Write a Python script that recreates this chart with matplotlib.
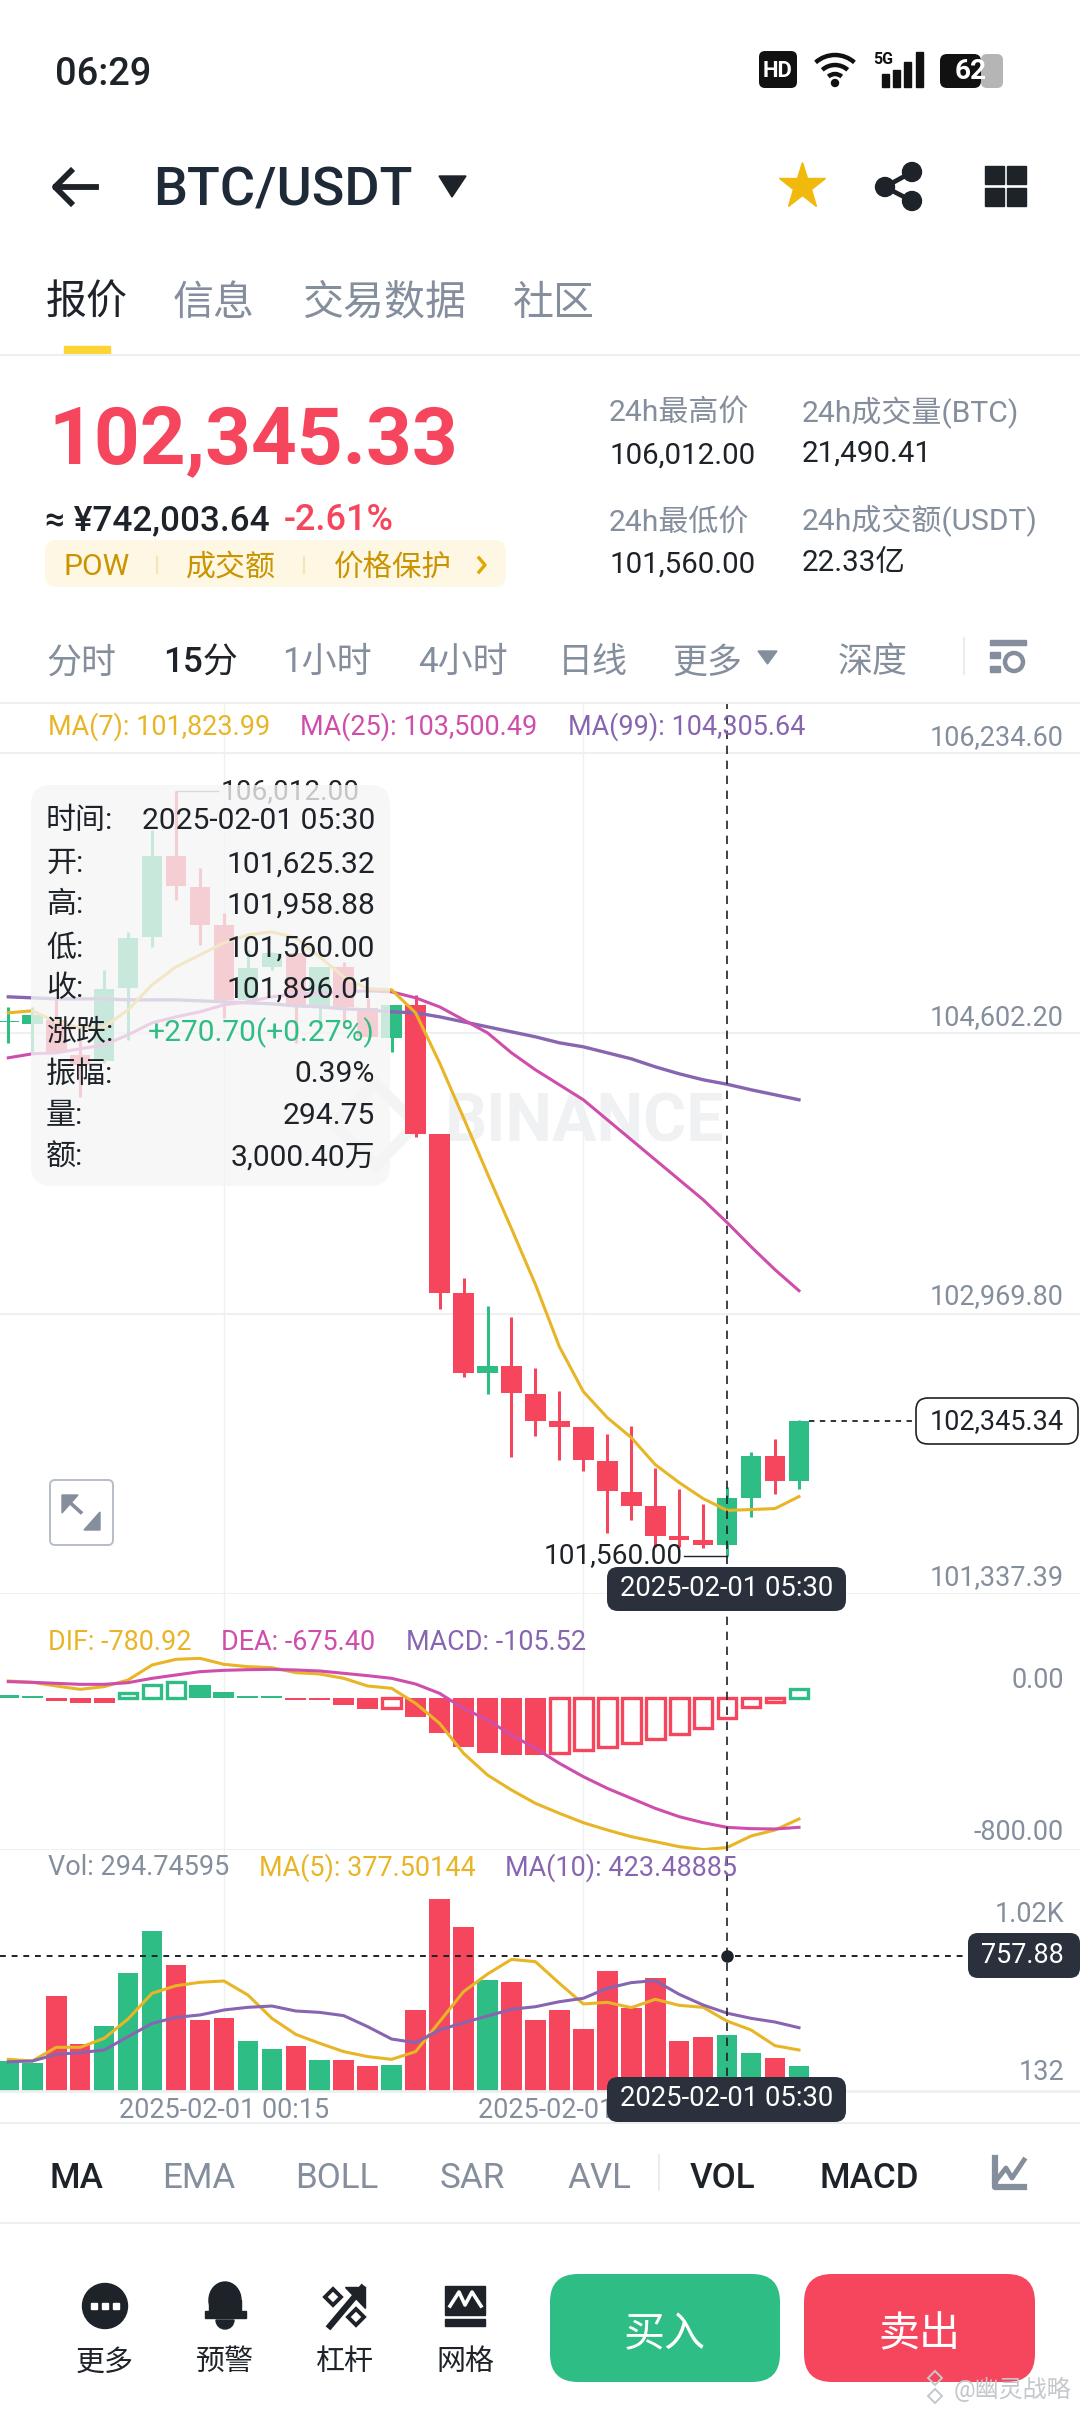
import matplotlib
matplotlib.use('Agg')
import matplotlib.pyplot as plt
from matplotlib.patches import FancyBboxPatch, Rectangle, Circle, Ellipse, Polygon, Arc, Wedge
import numpy as np

plt.rcParams['font.family'] = ['Roboto', 'Noto Sans CJK SC', 'DejaVu Sans']

W, H = 1080, 2412
RED, GREEN = '#f6465d', '#2ebd85'
DARK, GRAY = '#1e2329', '#848e9c'
YEL, PINK, PUR = '#e8b526', '#cf4dab', '#8865b0'
GRID = '#eff0f2'

# candles, 15 min
opens = [104669.1, 104657.5, 104680.7, 104477.0, 104442.1, 104867.0, 105163.8, 105635.2, 105454.8, 105233.6,
         104797.1, 104989.2, 105070.7, 104750.6, 104989.2, 104750.6, 104576.0, 104768.0, 104017.3, 103092.0,
         102626.4, 102667.1, 102504.2, 102347.0, 102312.1, 102114.2, 101933.8, 101852.4, 101677.8, 101654.5,
         101625.32, 101896.0, 102143.4, 101997.9]
highs = [104756.4, 104756.4, 104814.6, 104564.3, 104971.7, 105192.9, 105786.5, 106012.0, 105565.3, 105303.4,
         105088.1, 105076.5, 105105.6, 104989.2, 105018.3, 104808.8, 104768.0, 104826.2, 104017.3, 103179.3,
         103016.3, 102952.3, 102655.5, 102521.6, 102312.1, 102271.4, 102317.9, 102073.6, 101951.3, 101864.0,
         101958.88, 102166.6, 102242.3, 102350.0]
lows = [104546.9, 104488.7, 104488.7, 104232.6, 104430.5, 104564.3, 105105.6, 105379.1, 105117.2, 104692.4,
        104785.6, 104971.7, 104546.9, 104634.2, 104634.2, 104581.8, 104494.6, 103999.8, 102998.8, 102603.1,
        102504.2, 102137.6, 102259.7, 102120.1, 102056.0, 101695.2, 101770.9, 101613.8, 101613.8, 101607.9,
        101560.0, 101788.4, 101922.2, 101951.3]
closes = [104674.9, 104709.8, 104494.6, 104418.9, 104861.2, 105158.0, 105635.2, 105460.6, 105233.6, 104797.1,
          104983.4, 105070.7, 104756.4, 104989.2, 104756.4, 104581.8, 104768.0, 104017.3, 103092.0, 102626.4,
          102667.1, 102510.0, 102347.0, 102312.1, 102120.1, 101939.7, 101852.4, 101677.8, 101654.5, 101625.4,
          101896.01, 102143.4, 101997.9, 102345.34]

ma7 = [104721.5, 104733.1, 104669.1, 104634.2, 104640.0, 104738.9, 104884.4, 104989.2, 105059.0, 105128.9,
       105175.4, 105192.9, 105158.0, 105047.4, 104931.0, 104861.2, 104855.3, 104721.5, 104430.5, 104110.0,
       103784.0, 103465.0, 103140.0, 102777.7, 102515.8, 102364.5, 102248.1, 102091.0, 101986.2, 101893.1,
       101823.99, 101829.1, 101834.9, 101904.7]
ma25 = [104459.6, 104482.9, 104488.7, 104512.0, 104535.2, 104593.4, 104663.3, 104698.2, 104727.3, 104768.0,
        104785.6, 104814.6, 104832.1, 104837.9, 104843.7, 104849.5, 104843.7, 104808.8, 104756.4, 104680.7,
        104605.1, 104488.7, 104389.8, 104302.5, 104215.2, 104098.8, 103982.4, 103866.0, 103749.6, 103633.2,
        103500.49, 103359.7, 103225.8, 103103.6]
ma99 = [104814.6, 104808.8, 104803.0, 104803.0, 104803.0, 104797.1, 104797.1, 104797.1, 104791.3, 104785.5,
        104779.7, 104773.9, 104762.2, 104756.4, 104744.8, 104738.9, 104727.3, 104721.5, 104698.2, 104669.1,
        104640.0, 104610.9, 104581.8, 104546.9, 104523.6, 104488.7, 104453.8, 104407.2, 104366.5, 104331.6,
        104305.64, 104273.4, 104244.3, 104215.2]

macd_dif = [90.7, 83.8, 64.6, 47.1, 61.1, 96.0, 174.5, 204.2, 209.4, 178.0,
            165.8, 160.5, 134.4, 127.4, 104.7, 64.6, 52.4, -26.2, -130.9, -287.9,
            -401.4, -479.9, -549.7, -602.0, -650.9, -689.3, -724.2, -750.4, -776.5, -792.0,
            -780.92, -720.7, -689.3, -631.7]
macd_dea = [87.3, 83.8, 78.5, 73.3, 73.3, 82.0, 104.7, 122.2, 139.6, 146.6,
            150.0, 151.8, 148.3, 143.1, 130.9, 118.7, 104.7, 75.0, 26.2, -52.4,
            -113.4, -192.0, -261.8, -340.3, -410.1, -471.2, -523.5, -575.9, -619.5, -650.9,
            -675.4, -682.3, -684.0, -675.3]
macd_hist = [15.7, 14.0, -14.0, -26.2, -26.5, 26.2, 69.8, 87.2, 69.8, 31.4,
             14.0, 14.0, -8.7, -8.7, -33.2, -54.0, -53.0, -99.5, -183.0, -253.0,
             -284.0, -297.0, -297.0, -288.0, -270.0, -255.0, -236.0, -213.0, -188.0, -157.0,
             -105.52, -46.0, -17.0, 47.0]

volumes = [145.5, 135.8, 525.3, 242.4, 348.9, 655.2, 903.2, 705.6, 383.8, 393.5,
           263.7, 213.3, 232.7, 151.3, 151.3, 116.4, 122.2, 440.0, 1087.3, 926.5,
           614.5, 602.8, 383.8, 440.0, 333.5, 668.7, 455.6, 628.0, 259.8, 285.0,
           294.75, 192.0, 161.0, 118.0]
vol_ma5 = [155, 145, 225, 225, 277, 390, 539, 583, 603, 610.6,
           529, 393.5, 300, 248, 200, 171, 155, 200, 374, 548.6,
           651, 736, 723, 597, 477, 486.6, 455.6, 504, 469, 457.5,
           377.5, 325.7, 234.6, 209.4]
vol_ma10 = [141, 145, 184, 194, 209, 287, 364, 399, 413, 442,
            457.5, 465, 436, 428, 409, 345, 273, 252, 326, 368,
            407, 446, 461, 490, 510, 568, 601, 613, 533, 471,
            423.5, 393.5, 372, 339]

date_tick_idx = [9, 24]
date_ticks = ['2025-02-01 00:15', '2025-02-01 04:00']
price_ticks = [106234.60, 104602.20, 102969.80, 101337.39]
cross_idx = 30
cross_vol = 757.88
last_price = 102345.34

fig = plt.figure(figsize=(W / 100, H / 100), dpi=100, facecolor='white')


def panel(top, bottom, ylim):
    a = fig.add_axes([0, 1 - bottom / H, 1, (bottom - top) / H], zorder=1)
    a.set_xlim(-8.3 / 23.96, (W - 8.3) / 23.96)
    a.set_ylim(*ylim)
    for s in ['top', 'left', 'right']:
        a.spines[s].set_visible(False)
    a.spines['bottom'].set_color(GRID)
    a.spines['bottom'].set_linewidth(2)
    a.set_xticks(date_tick_idx)
    a.set_yticks([])
    a.tick_params(length=0, labelbottom=False, labelleft=False)
    a.grid(axis='x', color=GRID, lw=1)
    a.set_axisbelow(True)
    return a


idx = np.arange(len(closes))
up = np.array(closes) >= np.array(opens)
bar_col = [GREEN if u else RED for u in up]

# price panel
ax = panel(703, 1594, (101337.39, 106525.6))
ax.set_yticks(price_ticks)
ax.grid(axis='y', color=GRID, lw=1.5)
ax.text(18.2, 104075, 'BINANCE', fontsize=66 * .72, weight='bold', color='#f0f1f2', va='center', zorder=0)
ax.plot([15.3], [104075], marker='D', ms=42, mfc='none', mec='#f3f4f5', mew=8, zorder=0)
ax.vlines(idx, lows, highs, colors=bar_col, lw=2.2, zorder=2)
ax.bar(idx, np.abs(np.array(closes) - np.array(opens)), bottom=np.minimum(opens, closes),
       width=.86, color=bar_col, zorder=3)
ax.plot(idx, ma99, color=PUR, lw=2.4, zorder=4)
ax.plot(idx, ma25, color=PINK, lw=2.2, zorder=4)
ax.plot(idx, ma7, color=YEL, lw=2.2, zorder=4)
ax.axvline(cross_idx, color=DARK, lw=1.2, dashes=(5, 4), zorder=5)
ax.plot([33.4, 37.7], [last_price, last_price], color=DARK, lw=1.3, dashes=(3, 3), zorder=2)
ax.plot([7, 8.75], [106012, 106012], color='#777777', lw=1)
ax.text(8.85, 106012, '106,012.00', fontsize=28 * .72, color=DARK, va='center')
ax.plot([28.2, 30], [101560, 101560], color=DARK, lw=1, zorder=6)
ax.text(28.15, 101560, '101,560.00', fontsize=28 * .72, color=DARK, va='center', ha='right', zorder=6)

# macd panel
mx = panel(1594, 1850, (-794, 546.2))
for i, h in enumerate(macd_hist):
    hollow = i > 0 and h > macd_hist[i - 1]
    c = GREEN if h > 0 else RED
    if hollow:
        mx.bar(i, h, width=.78, facecolor='white', edgecolor=c, lw=2.4, zorder=2)
    else:
        mx.bar(i, h, width=.88, color=c, zorder=2)
mx.plot(idx, macd_dif, color=YEL, lw=2.2, zorder=3, clip_on=False)
mx.plot(idx, macd_dea, color=PINK, lw=2.2, zorder=3)
mx.axvline(cross_idx, color=DARK, lw=1.2, dashes=(5, 4), zorder=5)

# volume panel
vol_floor = -29
vx = panel(1850, 2091, (vol_floor, 1372))
vx.bar(idx, np.array(volumes) - vol_floor, bottom=vol_floor, width=.86, color=bar_col, zorder=2)
vx.plot(idx, vol_ma5, color=YEL, lw=2.2, zorder=3)
vx.plot(idx, vol_ma10, color=PUR, lw=2.2, zorder=3)
vx.axvline(cross_idx, color=DARK, lw=1.2, dashes=(5, 4), zorder=5)
vx.axhline(cross_vol, color=DARK, lw=1.4, dashes=(3, 3), zorder=5)
vx.plot([cross_idx], [cross_vol], 'o', color=DARK, ms=8, zorder=6)
vx.set_xticklabels(date_ticks, fontsize=27 * .72, color=GRAY)
vx.tick_params(labelbottom=True, pad=4)

# everything that is app chrome goes on a pixel axes on top
ui = fig.add_axes([0, 0, 1, 1], zorder=5)
ui.set_xlim(0, W)
ui.set_ylim(H, 0)
ui.axis('off')


def T(x, y, s, px=26, color=DARK, ha='left', weight='normal', **kw):
    # va center sits high because of the descender room, push it back down
    return ui.text(x, y + .08 * px, s, fontsize=px * .72, color=color, ha=ha, va='center', weight=weight, **kw)


def box(x0, y0, x1, y1, r, fc, ec='none', lw=0, alpha=None, z=2):
    p = FancyBboxPatch((x0, y0), x1 - x0, y1 - y0, boxstyle='round,pad=0,rounding_size=%s' % r,
                       fc=fc, ec=ec, lw=lw, alpha=alpha, zorder=z)
    ui.add_patch(p)


def hline(y, x0=0, x1=W, c='#eceef0', lw=1.5):
    ui.plot([x0, x1], [y, y], color=c, lw=lw, solid_capstyle='butt')


# status bar
T(55, 71, '06:29', 38, weight='medium')
box(759, 51, 797, 88, 6, '#111111')
T(778, 69, 'HD', 22, 'white', ha='center', weight='bold', zorder=3)
for w in [58, 38, 20]:
    ui.add_patch(Arc((835, 84), w, w, theta1=228, theta2=312, color='#111111', lw=3.2))
ui.add_patch(Circle((835, 83), 3.5, color='#111111'))
T(883, 58, '5G', 16, '#111111', ha='center', weight='bold')
for x, top in zip([882, 893, 904, 916], [74, 70, 62, 52]):
    ui.add_patch(Rectangle((x, top), 7, 87 - top, color='#111111'))
box(981, 54, 1003, 88, 6, '#b5b5b5')
box(940, 54, 981, 88, 7, '#111111', z=3)
T(971, 69, '62', 28, 'white', ha='center', weight='bold', zorder=4)

# header
ui.plot([56, 96], [187, 187], color=DARK, lw=4.2)
ui.plot([71, 55, 71], [171, 187, 203], color=DARK, lw=4.2)
T(153, 187, 'BTC/USDT', 54, '#1e2a38', weight='medium')
ui.add_patch(Polygon([(439, 176), (466, 176), (452, 197)], color=DARK))
ui.plot([802], [186], marker='*', ms=35, color='#f0b90b', mec='#f0b90b')
ui.plot([912, 885, 912], [172, 187, 201], color=DARK, lw=3.4)
for x, y in [(912, 172), (885, 187), (912, 201)]:
    ui.add_patch(Circle((x, y), 9.5, color=DARK))
for x in [985, 1007]:
    for y in [166, 188]:
        ui.add_patch(Rectangle((x, y), 18.5, 17.5, color=DARK))

# tabs
T(46, 300, '报价', 41, weight='medium')
for x, s in [(173, '信息'), (302, '交易数据'), (513, '社区')]:
    T(x, 300, s, 41, GRAY)
ui.add_patch(Rectangle((64, 346), 46, 8, color='#fcd535'))
hline(355)

# quote block
T(48, 435, '102,345.33', 80, RED, weight='bold')
T(45, 518, '≈ ¥742,003.64', 35, weight='medium')
T(284, 518, '-2.61%', 36, RED, weight='medium')
box(45, 540, 506, 587, 12, '#fdf7e3')
T(63, 565, 'POW', 30, '#c99400')
T(186, 565, '成交额', 30, '#c99400')
T(334, 565, '价格保护', 29.5, '#c99400')
for x in [157, 304]:
    ui.plot([x, x], [557, 573], color='#f5e6b8', lw=1.5)
ui.plot([479, 485, 479], [558, 565, 572], color='#e0a800', lw=2.4)

T(609, 410, '24h最高价', 30, GRAY)
T(609, 453, '106,012.00', 29.5)
T(802, 410, '24h成交量(BTC)', 30, GRAY)
T(802, 451, '21,490.41', 29.5)
T(609, 520, '24h最低价', 30, GRAY)
T(609, 562, '101,560.00', 29.5)
T(802, 518, '24h成交额(USDT)', 30, GRAY)
T(802, 561, '22.33亿', 29.5)

# intervals
for x, s in [(46, '分时'), (282, '1小时'), (418, '4小时'), (558, '日线'), (672, '更多'), (838, '深度')]:
    T(x, 660, s, 35, GRAY)
T(163, 660, '15分', 35, weight='medium')
ui.add_patch(Polygon([(758, 651), (777, 651), (767.5, 664)], color=GRAY))
ui.plot([964, 964], [638, 674], color='#e6e8ea', lw=1.2)
ui.add_patch(Rectangle((990, 640), 36, 5, color=GRAY))
ui.add_patch(Rectangle((990, 652), 10, 6, color=GRAY))
ui.add_patch(Rectangle((990, 666), 10, 6, color=GRAY))
ui.add_patch(Circle((1014, 662), 9, fc='none', ec=GRAY, lw=3.2))
hline(703)

# legends and axis labels
for x, s, c in [(48, 'MA(7): 101,823.99', YEL), (300, 'MA(25): 103,500.49', PINK), (568, 'MA(99): 104,305.64', PUR)]:
    T(x, 724, s, 27, c)
for y, s in zip([735, 1015, 1294, 1575], ['106,234.60', '104,602.20', '102,969.80', '101,337.39']):
    T(1064, y, s, 27, GRAY, ha='right')
for x, s, c in [(48, 'DIF: -780.92', YEL), (221, 'DEA: -675.40', PINK), (406, 'MACD: -105.52', PUR)]:
    T(x, 1640, s, 27, c)
T(1064, 1678, '0.00', 27, GRAY, ha='right')
T(1064, 1830, '-800.00', 27, GRAY, ha='right')
for x, s, c in [(48, 'Vol: 294.74595', GRAY), (259, 'MA(5): 377.50144', YEL), (505, 'MA(10): 423.48885', PUR)]:
    T(x, 1865, s, 27, c)
T(1064, 1912, '1.02K', 27, GRAY, ha='right')
T(1064, 2070, '132', 27, GRAY, ha='right')

# detail card over the candles
box(31, 785, 390, 1186, 20, '#f5f5f5', alpha=.78, z=2)
rows = [('时间:', '2025-02-01 05:30'), ('开:', '101,625.32'), ('高:', '101,958.88'), ('低:', '101,560.00'),
        ('收:', '101,896.01'), ('涨跌:', '+270.70(+0.27%)'), ('振幅:', '0.39%'), ('量:', '294.75'), ('额:', '3,000.40万')]
for y, (k, v) in zip([819, 862, 903, 946, 987, 1030, 1072, 1114, 1155], rows):
    T(46, y, k, 30, zorder=3)
    T(375, y, v, 30, GREEN if k == '涨跌:' else DARK, ha='right', zorder=3)

# tags
box(916, 1398, 1078, 1444, 12, 'white', ec=DARK, lw=1.2)
T(1064, 1419, '102,345.34', 27, ha='right', zorder=3)
for y0, y1 in [(1567, 1611), (2077, 2122)]:
    box(607, y0, 846, y1, 11, '#2a313c', z=3)
    T(727, (y0 + y1) / 2 - 3, '2025-02-01 05:30', 27.5, 'white', ha='center', zorder=4)
box(968, 1933, 1080, 1978, 10, '#2a313c')
T(1064, 1953, '757.88', 27, 'white', ha='right', zorder=3)

# expand button
box(50, 1480, 113, 1545, 5, 'white', ec='#b7bdc6', lw=1.4)
ui.add_patch(Polygon([(62, 1495), (78, 1495), (62, 1513)], color=GRAY, zorder=3))
ui.add_patch(Polygon([(100, 1530), (84, 1530), (100, 1512)], color=GRAY, zorder=3))
ui.plot([66, 96], [1499, 1526], color=GRAY, lw=2.6, zorder=3, dashes=(6, 8))

# indicator row
hline(2123)
T(49, 2176, 'MA', 35, weight='medium')
for x, s in [(162, 'EMA'), (295, 'BOLL'), (440, 'SAR'), (567, 'AVL')]:
    T(x, 2176, s, 35, GRAY)
ui.plot([659, 659], [2155, 2190], color='#e6e8ea', lw=1.2)
T(690, 2176, 'VOL', 35, weight='medium')
T(819, 2176, 'MACD', 35, weight='medium')
ui.plot([995, 995, 1024], [2158, 2187, 2187], color=GRAY, lw=4.5)
ui.plot([995, 1006, 1012, 1024], [2182, 2168, 2178, 2160], color=GRAY, lw=3.5)
hline(2223)

# bottom bar
ui.add_patch(Ellipse((105, 2306), 45, 45, color=DARK))
for x in [94, 105, 116]:
    ui.add_patch(Rectangle((x - 3, 2303), 6, 6, color='white', zorder=3))
ui.add_patch(Ellipse((225, 2300), 32, 36, color=DARK))
ui.add_patch(Rectangle((209, 2300), 32, 12, color=DARK))
ui.add_patch(Rectangle((205, 2311), 41, 7, color=DARK))
ui.add_patch(Wedge((225, 2320), 9, 0, 180, color=DARK))
ui.plot([330, 362], [2326, 2288], color=DARK, lw=4.5)
ui.add_patch(Polygon([(345, 2287), (365, 2287), (365, 2308)], color=DARK))
ui.plot([333, 356], [2297, 2317], 'D', ms=8, mfc='white', mec=DARK, mew=2.8, ls='none')
ui.add_patch(Rectangle((445, 2286), 40, 29, color=DARK))
ui.add_patch(Rectangle((445, 2319), 40, 7, color=DARK))
ui.plot([450, 459, 465, 472, 481], [2306, 2292, 2305, 2292, 2306], color='white', lw=2.6, zorder=3)
for x, s in [(105, '更多'), (225, '预警'), (345, '杠杆'), (465, '网格')]:
    T(x, 2360, s, 29, ha='center')
box(550, 2274, 780, 2382, 28, GREEN)
box(804, 2274, 1035, 2382, 28, RED)
T(665, 2332, '买入', 41, 'white', ha='center', zorder=3)
T(919, 2332, '卖出', 41, 'white', ha='center', zorder=3)

# watermark
ui.plot([935, 935], [2378, 2396], 'D', ms=7, mfc='none', mec='#c4c8cc', mew=1.4, ls='none', zorder=4)
T(954, 2387, '@幽灵战略', 24, '#c4c8cc', zorder=4)

fig.savefig('out.png', dpi=100)
